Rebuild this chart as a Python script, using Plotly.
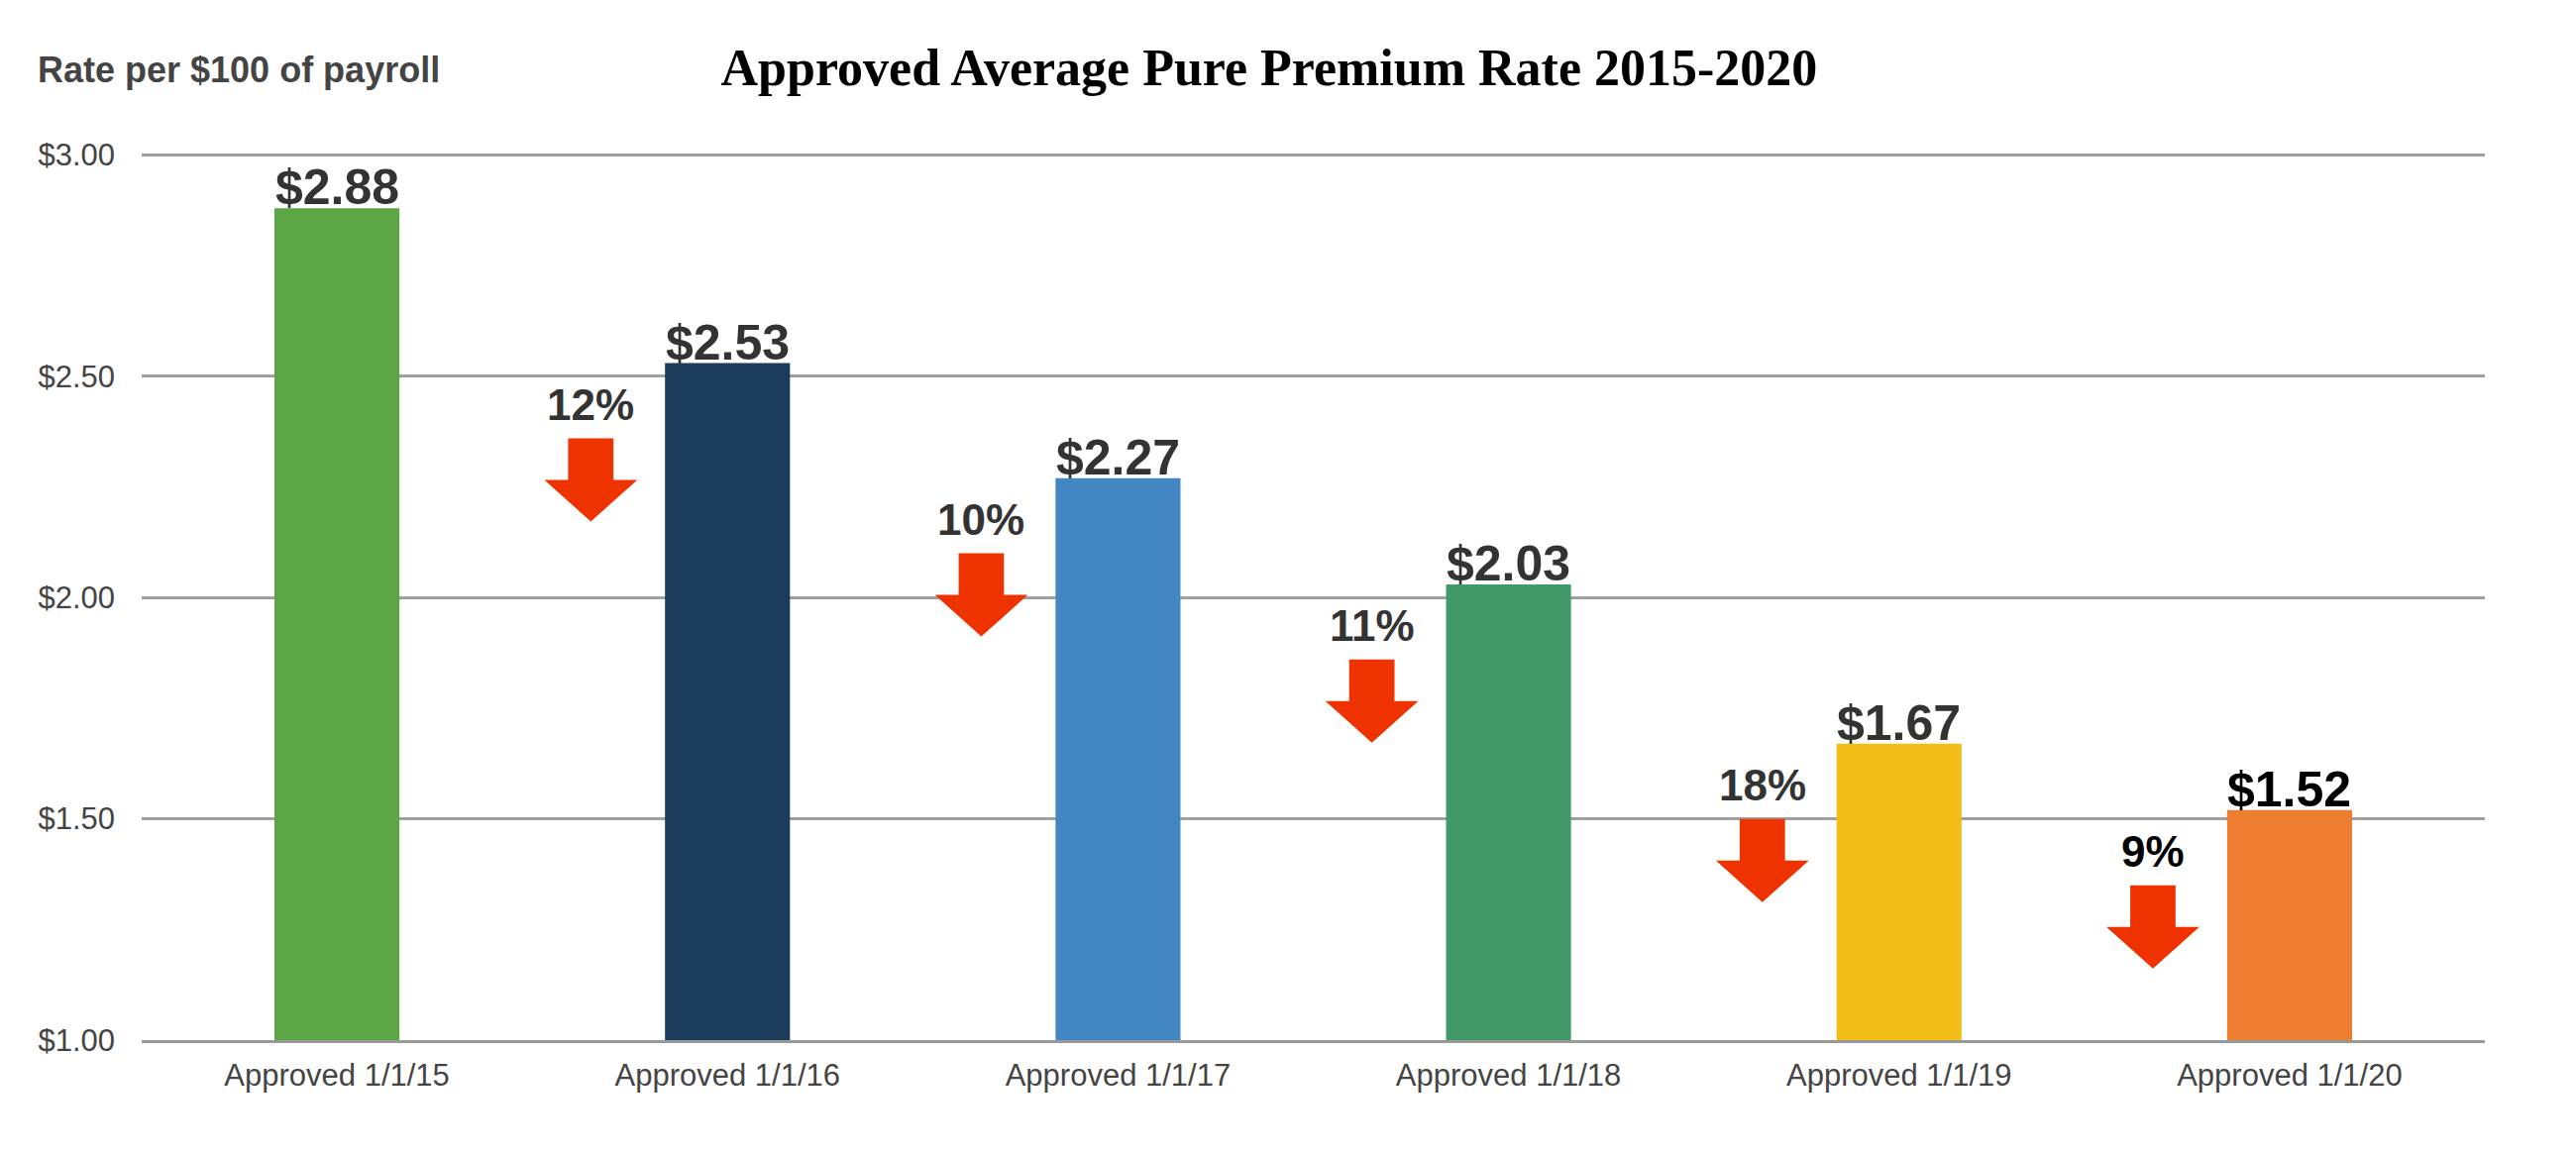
import plotly.graph_objects as go

# Data
categories = ["Approved 1/1/15", "Approved 1/1/16", "Approved 1/1/17",
              "Approved 1/1/18", "Approved 1/1/19", "Approved 1/1/20"]
rates = [2.88, 2.53, 2.27, 2.03, 1.67, 1.52]
rate_labels = ["$2.88", "$2.53", "$2.27", "$2.03", "$1.67", "$1.52"]
drops = ["12%", "10%", "11%", "18%", "9%"]
y_ticks = [1.0, 1.5, 2.0, 2.5, 3.0]
y_tick_labels = ["$1.00", "$1.50", "$2.00", "$2.50", "$3.00"]

bar_colors = ["#5ba545", "#1b3d5b", "#4387c2", "#41996a", "#f1bd16", "#ec7d31"]
label_colors = ["#333333", "#333333", "#333333", "#333333", "#333333", "#000000"]
arrow_color = "#ee3300"
sans = "Liberation Sans, Arial, sans-serif"

x_idx = list(range(len(categories)))

fig = go.Figure()
fig.add_trace(go.Bar(
    x=x_idx,
    y=rates,
    width=0.32,
    marker=dict(color=bar_colors, line=dict(width=0)),
    hovertemplate="%{customdata}: $%{y:.2f}<extra></extra>",
    customdata=categories,
    showlegend=False,
))

# value labels on top of each bar
for i, (val, lab) in enumerate(zip(rates, rate_labels)):
    fig.add_annotation(
        x=i, y=val, text=f"<b>{lab}</b>", showarrow=False,
        xanchor="center", yanchor="bottom", yshift=-9,
        font=dict(family=sans, size=50, color=label_colors[i]),
    )

# red down arrows with the percentage drop between bars
shaft_hw, head_hw = 0.058, 0.119
shaft_h, head_h = 0.094, 0.094
for i, pct in enumerate(drops):
    cx = i + 0.65
    top = rates[i + 1] - 0.17
    mid = top - shaft_h
    tip = mid - head_h
    path = (f"M {cx - shaft_hw},{top} L {cx + shaft_hw},{top} "
            f"L {cx + shaft_hw},{mid} L {cx + head_hw},{mid} "
            f"L {cx},{tip} L {cx - head_hw},{mid} L {cx - shaft_hw},{mid} Z")
    fig.add_shape(type="path", path=path, xref="x", yref="y",
                  fillcolor=arrow_color, line=dict(width=0), layer="above")
    fig.add_annotation(
        x=cx, y=top, text=f"<b>{pct}</b>", showarrow=False,
        xanchor="center", yanchor="middle", yshift=34,
        font=dict(family=sans, size=44, color=label_colors[i + 1]),
    )

# y-axis caption in the top left corner
fig.add_annotation(
    xref="paper", yref="paper", x=-0.0452, y=1.092,
    text="<b>Rate per $100 of payroll</b>", showarrow=False,
    xanchor="left", yanchor="middle",
    font=dict(family=sans, size=36, color="#444444"),
)

# page body adds ~8px, so margins are shifted a bit up/left
fig.update_layout(
    width=2600,
    height=1168,
    margin=dict(l=135, r=100, t=145, b=126),
    paper_bgcolor="white",
    plot_bgcolor="white",
    title=dict(
        text="<b>Approved Average Pure Premium Rate 2015-2020</b>",
        x=0.4896, xanchor="center", y=1 - 60 / 1168, yanchor="middle",
        font=dict(family="Liberation Serif, Times New Roman, serif", size=52, color="#000000"),
    ),
    bargap=0.68,
)

fig.update_xaxes(
    tickvals=x_idx,
    ticktext=categories,
    range=[-0.5, len(categories) - 0.5],
    showgrid=False,
    showline=True,
    linecolor="#999999",
    linewidth=3,
    ticks="",
    ticklabelstandoff=6,
    tickfont=dict(family=sans, size=31, color="#444444"),
    zeroline=False,
)

fig.update_yaxes(
    range=[1, 3.008],
    tickvals=y_ticks,
    ticktext=y_tick_labels,
    showgrid=True,
    gridcolor="#a0a0a0",
    gridwidth=3,
    zeroline=False,
    showline=False,
    ticks="",
    ticklabelstandoff=26,
    tickfont=dict(family=sans, size=31, color="#444444"),
)

fig.write_html("out.html")
